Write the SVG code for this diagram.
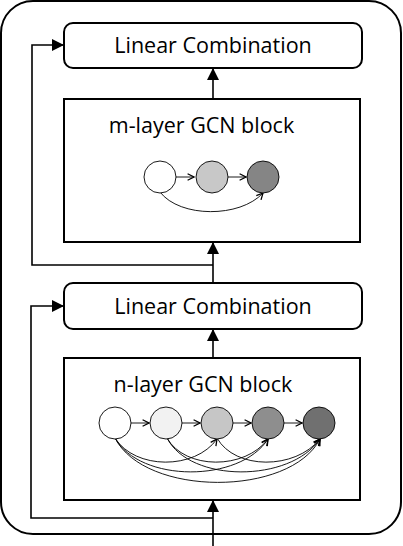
<svg xmlns="http://www.w3.org/2000/svg" width="403" height="546" viewBox="0 0 403 546">
<style>
.box{fill:#fff;stroke:#000;stroke-width:2}
.lbl{font-family:"Open Sans","Liberation Sans",sans-serif;font-size:21.5px;fill:#000;text-anchor:middle}
.conn{fill:none;stroke:#000;stroke-width:1.6}
.arc{fill:none;stroke:#000;stroke-width:0.9}
.node{stroke:#000;stroke-width:0.9}
</style>
<defs>
<marker id="tri" viewBox="0 0 10 10" refX="10" refY="5" markerWidth="12" markerHeight="12" markerUnits="userSpaceOnUse" orient="auto">
<path d="M0,0 L10,5 L0,10 z" fill="#000"/>
</marker>
<marker id="chev" viewBox="0 0 10 10" refX="9" refY="5" markerWidth="8" markerHeight="8" markerUnits="userSpaceOnUse" orient="auto">
<path d="M1,1 L9,5 L1,9" fill="none" stroke="#000" stroke-width="1.6"/>
</marker>
</defs>
<rect id="frame" x="1" y="1" width="400" height="533" rx="32" fill="#fff" stroke="#000" stroke-width="2"/>
<g id="connectors">
<line class="conn" x1="213" y1="546" x2="213" y2="500" marker-end="url(#tri)"/>
<polyline class="conn" points="213,518 31,518 31,306 64,306" marker-end="url(#tri)"/>
<line class="conn" x1="213" y1="358" x2="213" y2="329" marker-end="url(#tri)"/>
<line class="conn" x1="213" y1="283" x2="213" y2="242" marker-end="url(#tri)"/>
<polyline class="conn" points="213,265 32,265 32,45 64,45" marker-end="url(#tri)"/>
<line class="conn" x1="213" y1="99" x2="213" y2="68" marker-end="url(#tri)"/>
</g>
<g id="lc-top">
<rect class="box" x="64" y="23" width="298" height="45" rx="9"/>
<text class="lbl" x="213" y="53">Linear Combination</text>
</g>
<g id="m-block">
<rect class="box" x="64" y="99" width="296" height="143"/>
<text class="lbl" x="201.5" y="133">m-layer GCN block</text>
<g id="m-graph">
<path class="arc" d="M176,177 L194,177" marker-end="url(#chev)"/>
<path class="arc" d="M228,177 L246,177" marker-end="url(#chev)"/>
<path class="arc" d="M160,192 C180,218 240,218 263,193" marker-end="url(#chev)"/>
<circle class="node" cx="160" cy="177" r="16" fill="#fff"/>
<circle class="node" cx="212" cy="177" r="16" fill="#c8c8c8"/>
<circle class="node" cx="263" cy="177" r="16" fill="#858585"/>
</g>
</g>
<g id="lc-bottom">
<rect class="box" x="64" y="283" width="298" height="46" rx="9"/>
<text class="lbl" x="213" y="314">Linear Combination</text>
</g>
<g id="n-block">
<rect class="box" x="64" y="358" width="296" height="142"/>
<text class="lbl" x="203" y="392">n-layer GCN block</text>
<g id="n-graph">
<path class="arc" d="M131,423 L149,423" marker-end="url(#chev)"/>
<path class="arc" d="M182,423 L200,423" marker-end="url(#chev)"/>
<path class="arc" d="M233,423 L251,423" marker-end="url(#chev)"/>
<path class="arc" d="M284,423 L302,423" marker-end="url(#chev)"/>
<path class="arc" d="M115,438 C135,470 195,470 217,439" marker-end="url(#chev)"/>
<path class="arc" d="M115,438 C140,483 240,483 268,439" marker-end="url(#chev)"/>
<path class="arc" d="M115,438 C145,497 290,497 320,439" marker-end="url(#chev)"/>
<path class="arc" d="M167,438 C185,470 245,470 268,439" marker-end="url(#chev)"/>
<path class="arc" d="M167,438 C190,483 290,483 320,439" marker-end="url(#chev)"/>
<path class="arc" d="M217,438 C235,470 295,470 320,439" marker-end="url(#chev)"/>
<circle class="node" cx="115" cy="423" r="16" fill="#fff"/>
<circle class="node" cx="166" cy="423" r="16" fill="#f2f2f2"/>
<circle class="node" cx="217" cy="423" r="16" fill="#c6c6c6"/>
<circle class="node" cx="268" cy="423" r="16" fill="#8e8e8e"/>
<circle class="node" cx="319" cy="423" r="16" fill="#707070"/>
</g>
</g>
</svg>
